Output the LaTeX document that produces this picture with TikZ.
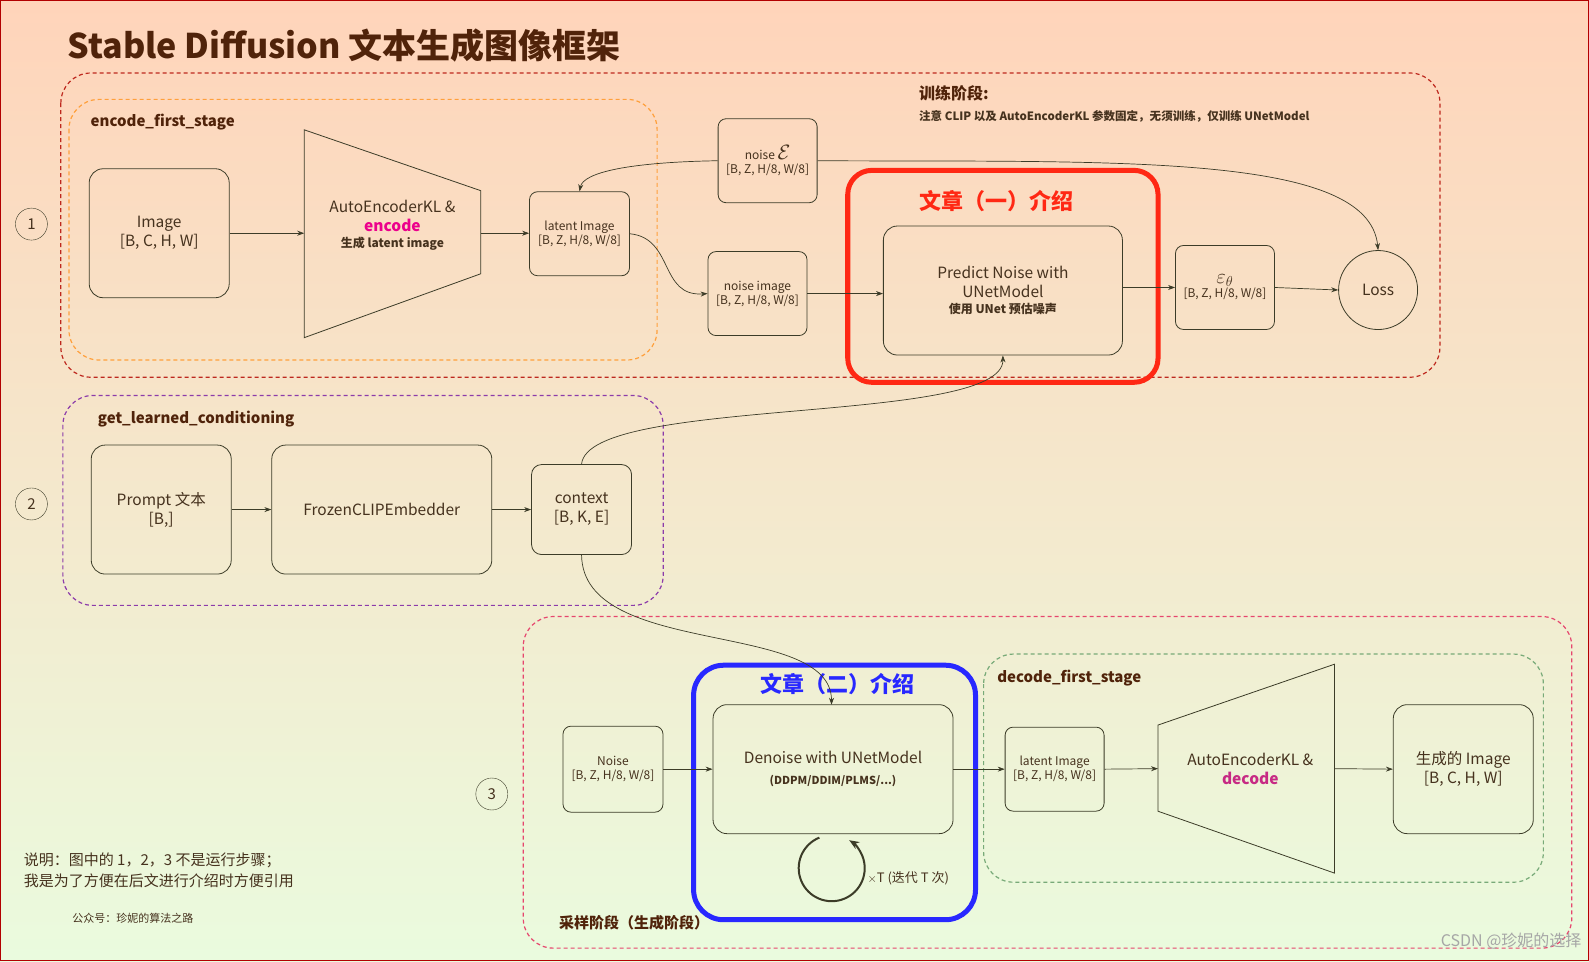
\documentclass[tikz,border=0pt]{standalone}
\usepackage{fontspec}
\setmainfont{Noto Sans CJK SC}
\usetikzlibrary{arrows.meta}
\definecolor{ln}{RGB}{60,60,40}
\definecolor{tx}{RGB}{70,50,30}
\definecolor{ttl}{RGB}{80,35,10}
\begin{document}
\begin{tikzpicture}[x=1.014pt,y=-1.014pt,
 bx/.style={draw=ln,rounded corners=14pt,line width=0.8pt,align=center,text=tx},
 ar/.style={-{Stealth[length=7pt,width=5pt]},draw=ln,line width=0.7pt},
 dsh/.style={dashed,dash pattern=on 4pt off 3pt,rounded corners=30pt,line width=1.2pt},
 lbl/.style={font=\bfseries\fontsize{15}{17}\selectfont,text=ttl,anchor=west},
 num/.style={draw=ln,circle,minimum size=32pt,inner sep=0pt,font=\fontsize{15}{15}\selectfont,text=tx},
 f14/.style={font=\fontsize{15.5}{19}\selectfont}]
\shade[top color={rgb,255:red,255;green,212;blue,186},bottom color={rgb,255:red,234;green,251;blue,222}] (0,0) rectangle (1567,948);
\draw[red!70!black,line width=1pt] (0.5,0.5) rectangle (1566.5,947.5);
\node[anchor=west,font=\bfseries\fontsize{34}{36}\selectfont,text=ttl] (title) at (63,45) {Stable Diffusion 文本生成图像框架};
% group boxes
\draw[dsh,draw={rgb,255:red,190;green,40;blue,30}] (60,72) rectangle (1420,372);
\draw[dsh,draw={rgb,255:red,255;green,160;blue,60}] (68,98) rectangle (648,355);
\draw[dsh,draw={rgb,255:red,140;green,60;blue,170}] (62,390) rectangle (654,597);
\draw[dsh,draw={rgb,255:red,230;green,70;blue,110}] (516,608) rectangle (1550,935);
\draw[dsh,draw={rgb,255:red,120;green,170;blue,120}] (970,645) rectangle (1522,870);
\node[lbl] (l1) at (86,120) {encode\_first\_stage};
\node[lbl] (l2) at (93,413) {get\_learned\_conditioning};
\node[lbl] (l3) at (980,669) {decode\_first\_stage};
\node[lbl] (l4) at (548,910) {采样阶段（生成阶段）};
\node[lbl,font=\bfseries\fontsize{16}{18}\selectfont] (l5) at (903,92) {训练阶段:};
\node[anchor=west,font=\bfseries\fontsize{11.5}{13}\selectfont,text=tx] (l6) at (903,115) {注意 CLIP 以及 AutoEncoderKL 参数固定，无须训练，仅训练 UNetModel};
% highlight boxes
\draw[draw={rgb,255:red,255;green,40;blue,20},line width=5pt,rounded corners=24pt] (836,168) rectangle (1142,377);
\node[font=\bfseries\fontsize{22}{24}\selectfont,text={rgb,255:red,255;green,40;blue,20}] (h1) at (983,198) {文章（一）介绍};
\draw[draw={rgb,255:red,40;green,40;blue,255},line width=5pt,rounded corners=30pt] (684,656) rectangle (962,907);
\node[font=\bfseries\fontsize{22}{24}\selectfont,text={rgb,255:red,40;green,40;blue,255}] (h2) at (826,675) {文章（二）介绍};
% numbers
\node[num] (n1) at (31,221) {1};
\node[num] (n2) at (31,497) {2};
\node[num] (n3) at (485,783) {3};
% row 1
\node[bx,f14,minimum width=140pt,minimum height=129pt] (img) at (157,230) {Image\\{}[B, C, H, W]};
\draw[ln,line width=0.8pt] (300,128) -- (474,188) -- (474,270) -- (300,333) -- cycle;
\coordinate (encL) at (300,230); \coordinate (encR) at (474,230);
\node[align=center,text=tx,f14] (enc) at (387,222) {AutoEncoderKL \&\\{\bfseries\color{magenta}encode}\\[-3pt]{\bfseries\fontsize{12}{14}\selectfont 生成 latent image}};
\node[bx,font=\fontsize{12}{14}\selectfont,minimum width=100pt,minimum height=84pt,rounded corners=8pt] (lat) at (571.5,230.5) {latent Image\\{}[B, Z, H/8, W/8]};
\node[bx,font=\fontsize{12}{14}\selectfont,minimum width=99pt,minimum height=84pt,rounded corners=8pt] (noise) at (757,158.5) {noise {\fontsize{22}{22}\selectfont$\mathcal{E}$}\\{}[B, Z, H/8, W/8]};
\node[bx,font=\fontsize{12}{14}\selectfont,minimum width=99pt,minimum height=84pt,rounded corners=8pt] (nimg) at (747,289.5) {noise image\\{}[B, Z, H/8, W/8]};
\node[bx,f14,minimum width=239pt,minimum height=129pt] (pred) at (989,286.5) {Predict Noise with\\UNetModel\\[-3pt]{\bfseries\fontsize{12}{14}\selectfont 使用 UNet 预估噪声}};
\node[bx,font=\fontsize{12}{14}\selectfont,minimum width=99pt,minimum height=84pt,rounded corners=8pt] (eth) at (1208,283.5) {{\fontsize{22}{22}\selectfont$\varepsilon_\theta$}\\{}[B, Z, H/8, W/8]};
\node[draw=ln,circle,line width=0.8pt,minimum size=79pt,f14,text=tx] (loss) at (1359,286) {Loss};
\draw[ar] (img.east) -- (encL);
\draw[ar] (encR) -- (lat.west |- encR) ;
\draw[ar] (noise.west) .. controls (620,160) and (575,170) .. (lat.north);
\draw[ar] (noise.east) .. controls (1100,160) and (1350,150) .. (loss.north);
\draw[ar] (lat.east) .. controls (665,235) and (650,293) .. (nimg.west);
\draw[ar] (nimg.east) -- (pred.west |- nimg.east);
\draw[ar] (pred.east |- eth.west) -- (eth.west);
\draw[ar] (eth.east) -- (loss.west);
% row 2
\node[bx,f14,minimum width=140pt,minimum height=129pt] (prm) at (159,502.5) {Prompt 文本\\{}[B,]};
\node[bx,f14,minimum width=220pt,minimum height=129pt] (clip) at (376.5,502.5) {FrozenCLIPEmbedder};
\node[bx,f14,minimum width=100pt,minimum height=90pt,rounded corners=10pt] (ctx) at (573.5,502.5) {context\\{}[B, K, E]};
\draw[ar] (prm) -- (clip);
\draw[ar] (clip) -- (ctx);
\draw[ar] (ctx.north) .. controls (580,390) and (990,420) .. (pred.south);
\draw[ar] (ctx.south) .. controls (575,650) and (820,610) .. (820,695);
% row 3
\node[bx,font=\fontsize{12}{14}\selectfont,minimum width=100pt,minimum height=86pt,rounded corners=8pt] (nz) at (604.5,758.5) {Noise\\{}[B, Z, H/8, W/8]};
\node[bx,f14,minimum width=240pt,minimum height=129pt] (den) at (821.5,758.5) {Denoise with UNetModel\\[2pt]{\bfseries\fontsize{11}{13}\selectfont (DDPM/DDIM/PLMS/...)}};
\node[bx,font=\fontsize{12}{14}\selectfont,minimum width=99pt,minimum height=84pt,rounded corners=8pt] (lat2) at (1040,758.5) {latent Image\\{}[B, Z, H/8, W/8]};
\draw[ln,line width=0.8pt] (1142,715) -- (1316,655) -- (1316,861) -- (1142,800) -- cycle;
\coordinate (decL) at (1142,758); \coordinate (decR) at (1316,758);
\node[align=center,text=tx,f14] (dec) at (1233,758) {AutoEncoderKL \&\\{\bfseries\color{magenta!80!black}decode}};
\node[bx,f14,minimum width=140pt,minimum height=129pt] (out) at (1443,758.5) {生成的 Image\\{}[B, C, H, W]};
\draw[ar] (nz.east) -- (den.west |- nz.east);
\draw[ar] (den.east |- lat2.west) -- (lat2.west);
\draw[ar] (lat2.east) -- (decL);
\draw[ar] (decR) -- (out.west);
% loop
\coordinate (lpS) at (808,826);
\draw[ln,line width=2pt,-{Stealth[length=10pt,width=8pt]}] (lpS) arc[start angle=112,end angle=418,radius=33pt];
\node[anchor=west,text=tx,font=\fontsize{13}{15}\selectfont] (xt) at (852,866) {$\times$T (迭代 T 次)};
% notes
\node[anchor=north west,align=left,text=tx,font=\fontsize{15}{21}\selectfont] (note) at (20,838) {说明：图中的 1，2，3 不是运行步骤；\\我是为了方便在后文进行介绍时方便引用};
\node[anchor=west,text=tx,font=\fontsize{11}{13}\selectfont] (gzh) at (68,906) {公众号：珍妮的算法之路};
\node[anchor=east,text=gray!70,font=\fontsize{16}{18}\selectfont] (wm) at (1563,928) {CSDN @珍妮的选择};
\pgfresetboundingbox
\useasboundingbox (0,0) rectangle (1567,948);
\end{tikzpicture}
\end{document}
